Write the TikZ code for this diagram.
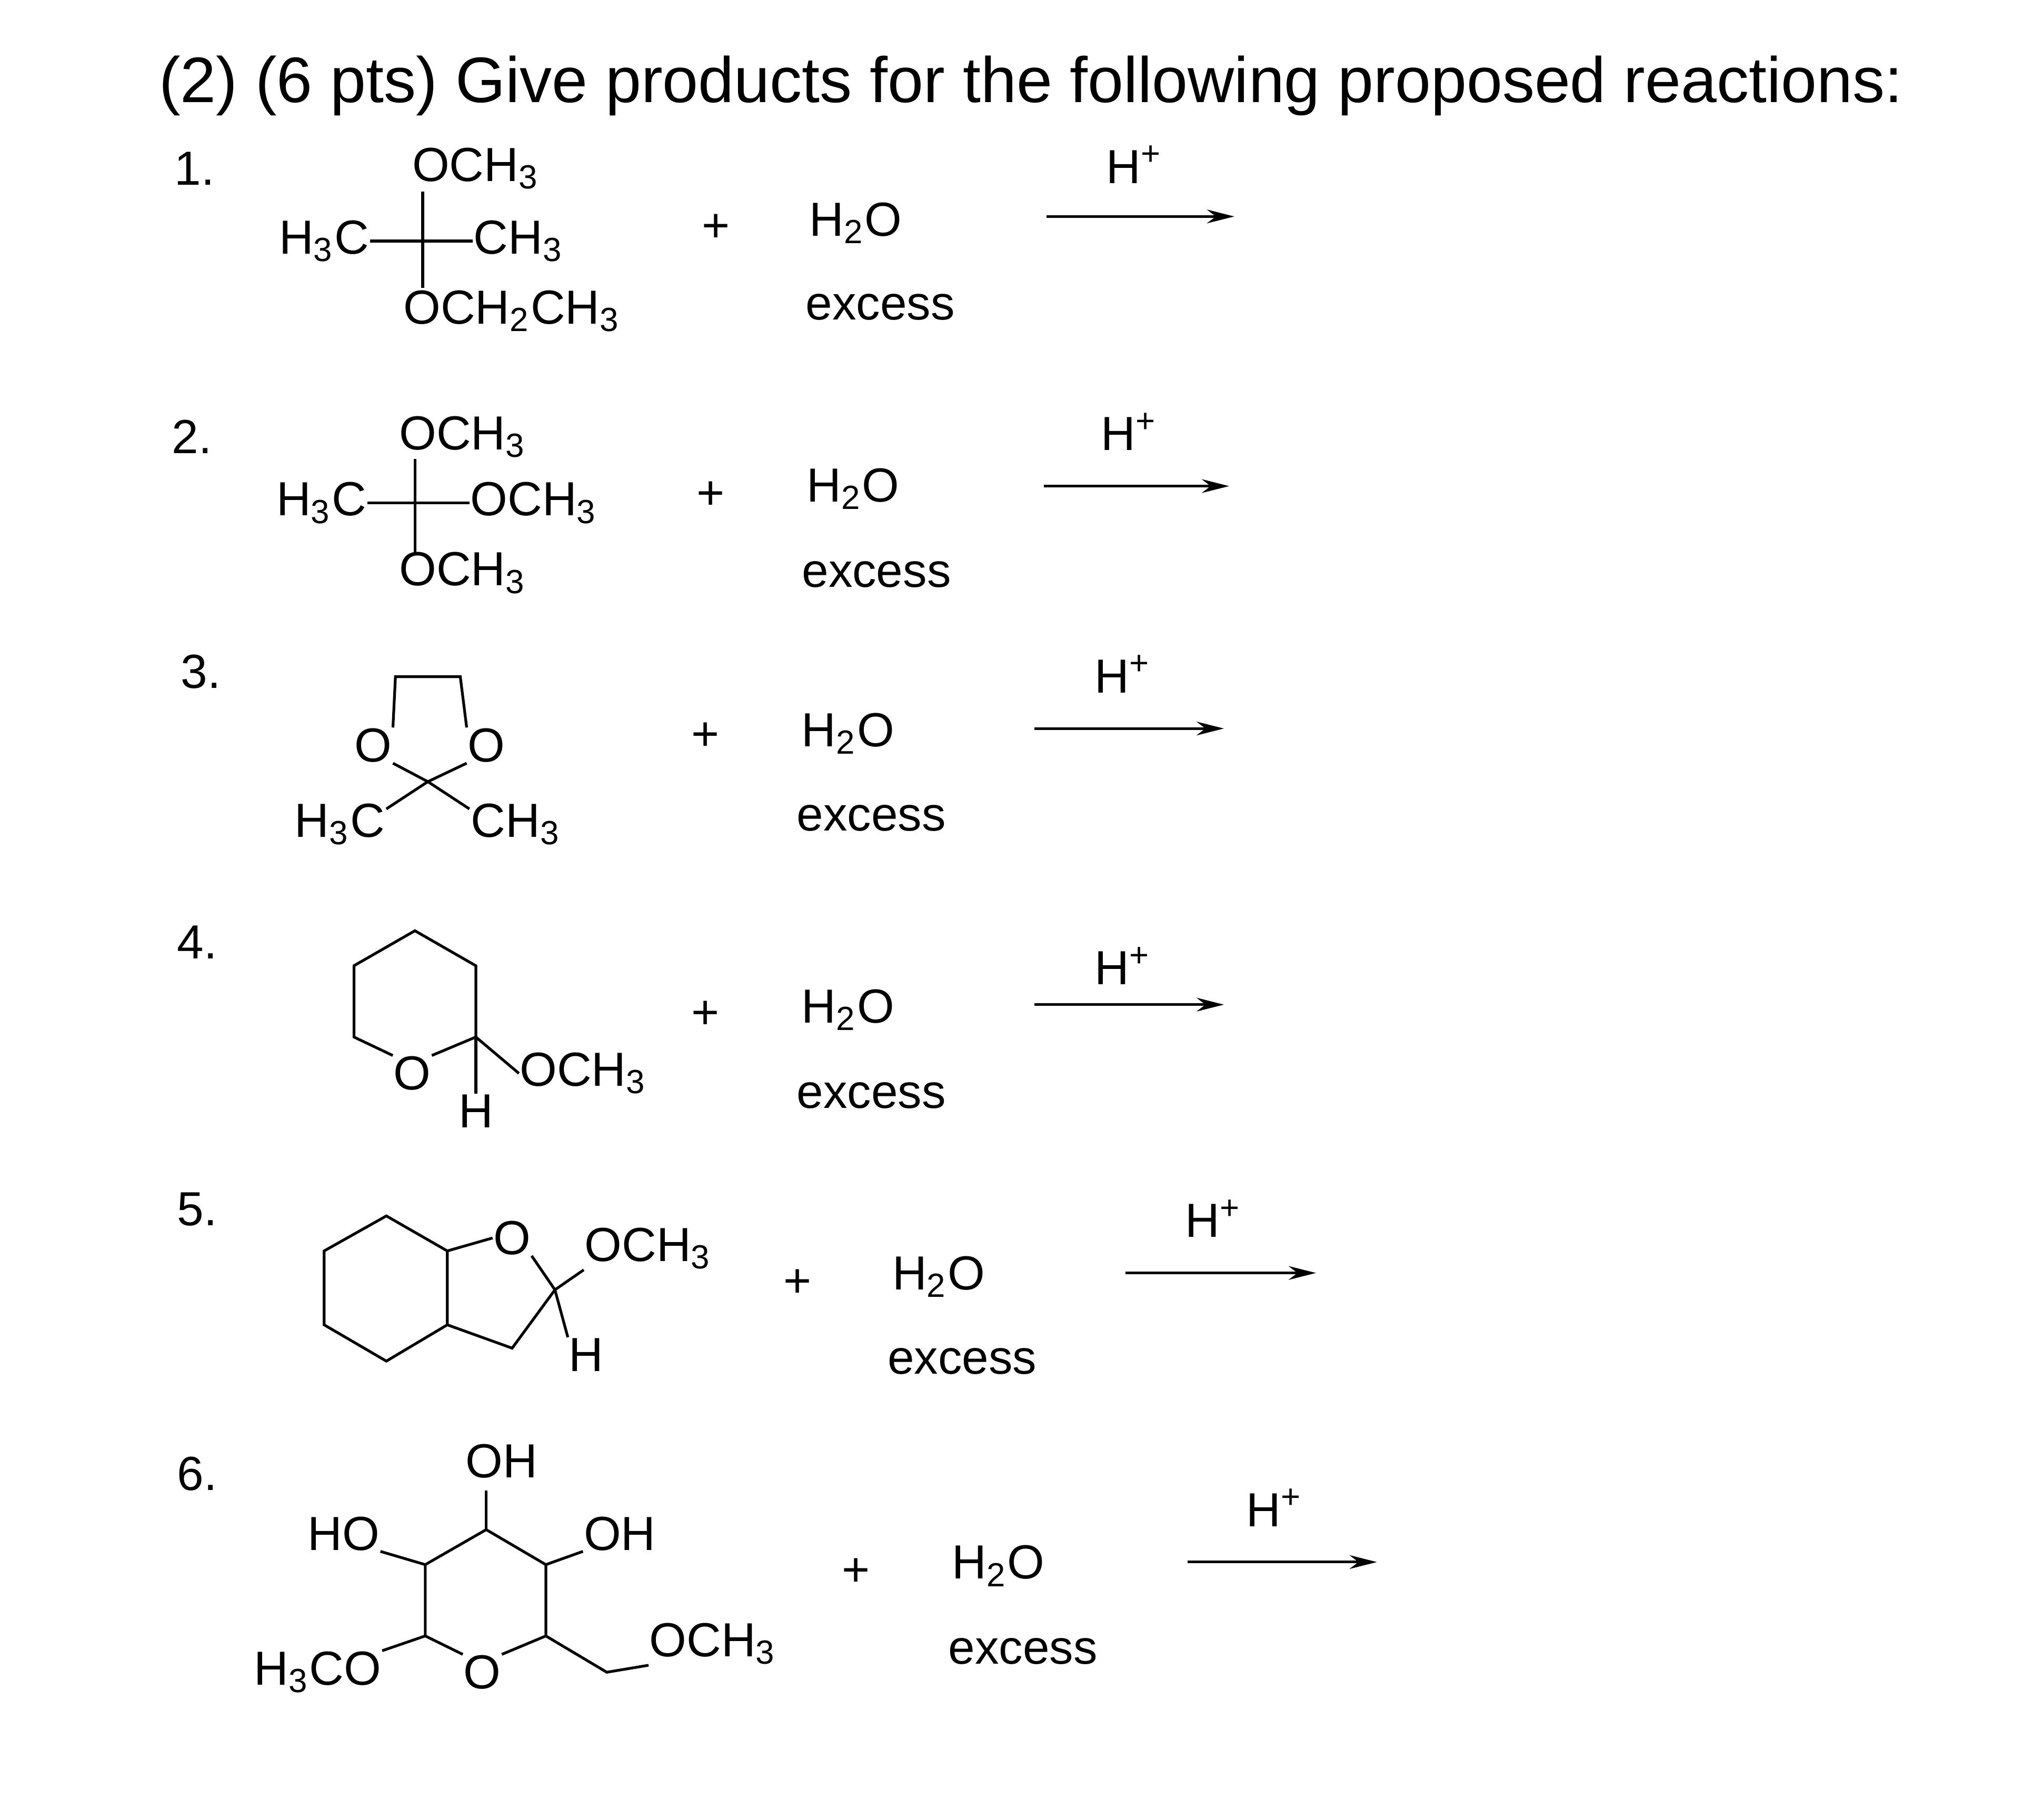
\documentclass[tikz,border=0pt]{standalone}
\usepackage{fontspec}
\setmainfont{Liberation Sans}
\usetikzlibrary{arrows.meta}
\newcommand{\chsub}[1]{\textsubscript{#1}}
\begin{document}
\begin{tikzpicture}[x=0.01cm,y=-0.01cm,
  t/.style={font=\fontsize{10.5}{12}\selectfont,inner sep=0pt},
  b/.style={line width=0.6pt},
  ar/.style={line width=0.6pt,-{Stealth[length=6pt,width=3pt]}}]
\useasboundingbox (0,0) rectangle (1568,1404);
\fill[white] (0,0) rectangle (1568,1404);
\node[inner sep=0pt,anchor=west,font=\fontsize{14.1}{16}\selectfont] (title) at (122,66) {(2) (6 pts) Give products for the following proposed reactions:};
% 1
\node[t] (n1) at (150,130) {1.};
\node[t] (a1) at (367,130) {OCH\chsub{3}};
\node[t] (b1) at (250,186) {H\chsub{3}C};
\node[t] (c1) at (400,186) {CH\chsub{3}};
\node[t] (d1) at (395,240) {OCH\chsub{2}CH\chsub{3}};
\draw[b] (326,148) -- (326,222);
\draw[b] (b1.east) -- (c1.west);
\node[t] (p1) at (552,176) {+};
\node[t] (w1) at (660,172) {H\chsub{2}O};
\node[t] (e1) at (679,237) {excess};
\coordinate (s1) at (807,167); \coordinate (f1) at (952,167);
\draw[ar] (s1) -- (f1);
\node[t] (h1) at (875,127) {H\textsuperscript{+}};
% 2
\node[t] (n2) at (148,337) {2.};
\node[t] (a2) at (357,337) {OCH\chsub{3}};
\node[t] (b2) at (248,388) {H\chsub{3}C};
\node[t] (c2) at (412,388) {OCH\chsub{3}};
\node[t] (d2) at (357,442) {OCH\chsub{3}};
\draw[b] (320,354) -- (320,426);
\draw[b] (b2.east) -- (c2.west);
\node[t] (p2) at (548,382) {+};
\node[t] (w2) at (658,377) {H\chsub{2}O};
\node[t] (e2) at (676,443) {excess};
\coordinate (s2) at (805,375); \coordinate (f2) at (948,375);
\draw[ar] (s2) -- (f2);
\node[t] (h2) at (871,333) {H\textsuperscript{+}};
% 3
\node[t] (n3) at (155,518) {3.};
\node[t] (o3a) at (288,575) {O};
\node[t] (o3b) at (375,575) {O};
\node[t] (l3) at (262,636) {H\chsub{3}C};
\node[t] (r3) at (398,636) {CH\chsub{3}};
\coordinate (k3) at (330,603);
\draw[b] (o3a.north east) -- (305,522) -- (355,522) -- (o3b.north west);
\draw[b] (o3a.south east) -- (k3) -- (362,624);
\draw[b] (o3b.south west) -- (k3) -- (298,624);
\node[t] (p3) at (544,568) {+};
\node[t] (w3) at (654,566) {H\chsub{2}O};
\node[t] (e3) at (672,631) {excess};
\coordinate (s3) at (798,562); \coordinate (f3) at (944,562);
\draw[ar] (s3) -- (f3);
\node[t] (h3) at (866,520) {H\textsuperscript{+}};
% 4
\node[t] (n4) at (152,727) {4.};
\node[t] (o4) at (318,828) {O};
\node[t] (m4) at (450,828) {OCH\chsub{3}};
\node[t] (hh4) at (367,857) {H};
\coordinate (c4) at (367,800);
\draw[b] (o4.north west) -- (273,800) -- (273,745) -- (320,718) -- (367,745) -- (c4) -- (o4.north east);
\draw[b] (c4) -- (hh4.north);
\draw[b] (c4) -- (m4.west);
\node[t] (p4) at (544,783) {+};
\node[t] (w4) at (654,779) {H\chsub{2}O};
\node[t] (e4) at (672,845) {excess};
\coordinate (s4) at (798,775); \coordinate (f4) at (944,775);
\draw[ar] (s4) -- (f4);
\node[t] (h4) at (866,745) {H\textsuperscript{+}};
% 5
\node[t] (n5) at (152,933) {5.};
\node[t] (o5) at (395,955) {O};
\node[t] (m5) at (500,963) {OCH\chsub{3}};
\node[t] (hh5) at (452,1045) {H};
\coordinate (c5) at (428,995);
\draw[b] (250,965) -- (298,938) -- (345,965) -- (345,1022) -- (298,1050) -- (250,1022) -- cycle;
\draw[b] (345,965) -- (o5.west);
\draw[b] (o5.south east) -- (c5) -- (395,1040) -- (345,1022);
\draw[b] (c5) -- (m5.south west);
\draw[b] (c5) -- (hh5.north west);
\node[t] (p5) at (615,990) {+};
\node[t] (w5) at (724,985) {H\chsub{2}O};
\node[t] (e5) at (742,1050) {excess};
\coordinate (s5) at (868,982); \coordinate (f5) at (1015,982);
\draw[ar] (s5) -- (f5);
\node[t] (h5) at (936,940) {H\textsuperscript{+}};
% 6
\node[t] (n6) at (152,1137) {6.};
\node[t] (oh1) at (387,1127) {OH};
\node[t] (ho6) at (265,1183) {HO};
\node[t] (oh2) at (478,1183) {OH};
\node[t] (o6) at (372,1290) {O};
\node[t] (m6) at (550,1268) {OCH\chsub{3}};
\node[t] (l6) at (245,1290) {H\chsub{3}CO};
\coordinate (ca) at (375,1180);
\coordinate (cb) at (328,1207);
\coordinate (cc) at (421,1207);
\coordinate (cd) at (421,1262);
\coordinate (ce) at (328,1262);
\draw[b] (o6.north west) -- (ce) -- (cb) -- (ca) -- (cc) -- (cd) -- (o6.north east);
\draw[b] (ca) -- (375,1150);
\draw[b] (cb) -- (ho6.south east);
\draw[b] (cc) -- (oh2.south west);
\draw[b] (cd) -- (468,1290) -- (m6.south west);
\draw[b] (ce) -- (l6.north east);
\node[t] (p6) at (660,1213) {+};
\node[t] (w6) at (770,1208) {H\chsub{2}O};
\node[t] (e6) at (789,1274) {excess};
\coordinate (s6) at (916,1205); \coordinate (f6) at (1062,1205);
\draw[ar] (s6) -- (f6);
\node[t] (h6) at (983,1163) {H\textsuperscript{+}};
\end{tikzpicture}
\end{document}
